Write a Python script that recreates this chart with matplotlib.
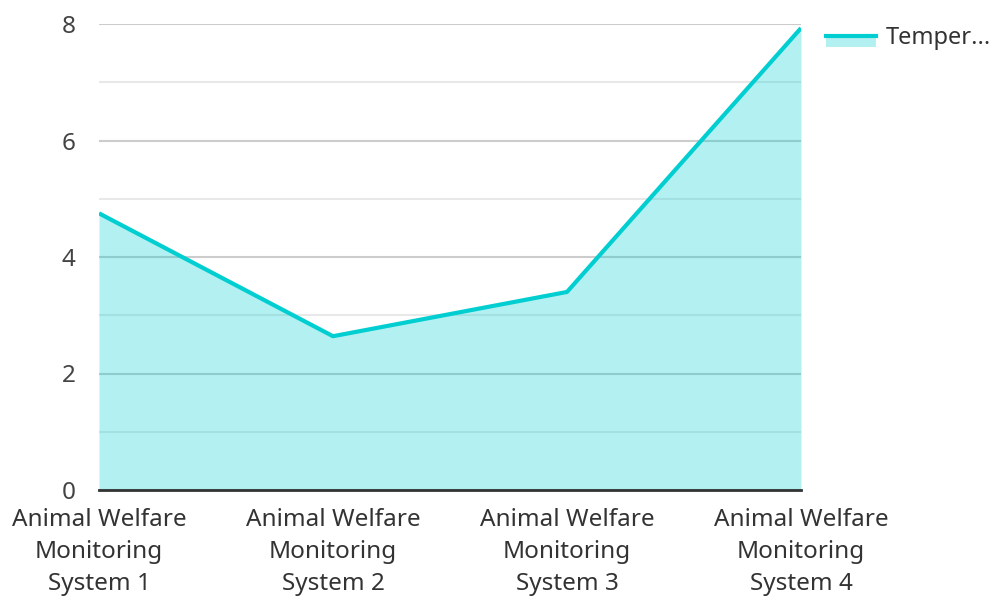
import matplotlib.pyplot as plt
from matplotlib.patches import Rectangle
from matplotlib.lines import Line2D

plt.rcParams['font.family'] = ['Noto Sans', 'DejaVu Sans']

categories = ['Animal Welfare\nMonitoring\nSystem 1', 'Animal Welfare\nMonitoring\nSystem 2',
              'Animal Welfare\nMonitoring\nSystem 3', 'Animal Welfare\nMonitoring\nSystem 4']
values = [4.75, 2.64, 3.40, 7.93]
legend_label = 'Temper...'

W, H = 991, 597
fig = plt.figure(figsize=(W / 100, H / 100), dpi=100)
ax = fig.add_axes([99 / W, 1 - 490 / H, (801 - 99) / W, (490 - 24) / H])

x = list(range(len(values)))
line_c = '#00CED1'
ax.fill_between(x, values, 0, color=line_c, alpha=0.3, lw=0, zorder=2)
ax.plot(x, values, color=line_c, lw=3, zorder=3, solid_capstyle='butt')

ax.set_xlim(0, 3)
ax.set_ylim(0, 8)
ax.set_yticks([0, 2, 4, 6, 8])
ax.set_yticks([1, 3, 5, 7], minor=True)
ax.grid(axis='y', which='major', color='#cccccc', lw=1.5, zorder=1)
ax.grid(axis='y', which='minor', color='#e8e8e8', lw=1.5, zorder=1)
ax.set_xticks(x)
ax.set_xticklabels(categories, fontsize=17.5, color='#333333', linespacing=1.43)
ax.tick_params(axis='y', which='both', length=0, labelsize=17.5, labelcolor='#444444', pad=17)
ax.tick_params(axis='x', length=0, pad=13)
for s in ['top', 'right', 'left']:
    ax.spines[s].set_visible(False)
ax.spines['bottom'].set_color('#333333')
ax.spines['bottom'].set_linewidth(2)
ax.spines['bottom'].set_zorder(4)

# legend drawn by hand
fig.patches.append(Rectangle((826 / W, 1 - 47 / H), 50 / W, 12 / H, transform=fig.transFigure,
                             facecolor=line_c, alpha=0.3, lw=0))
fig.lines.append(Line2D([826 / W, 876 / W], [1 - 36 / H, 1 - 36 / H], transform=fig.transFigure,
                        color=line_c, lw=3))
fig.text(886 / W, 1 - 38 / H, legend_label, fontsize=17, color='#333333', va='center', ha='left')

fig.savefig('out.png', dpi=100)
